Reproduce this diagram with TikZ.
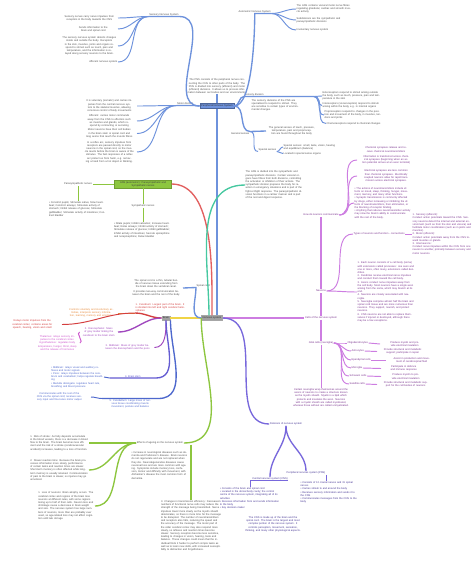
\documentclass[tikz,border=0pt]{standalone}
\usepackage{fontspec}
\setmainfont{Liberation Sans}
\usepackage{xcolor}
\usepackage{tikz}
\usetikzlibrary{positioning}
\definecolor{ink}{RGB}{80,80,80}
\definecolor{pnsblue}{RGB}{110,146,220}
\definecolor{ansgreen}{RGB}{141,198,63}
\definecolor{ansred}{RGB}{226,96,96}
\definecolor{ansteal}{RGB}{70,200,160}
\definecolor{brainyel}{RGB}{240,212,70}
\definecolor{brainred}{RGB}{212,62,62}
\definecolor{brainorange}{RGB}{232,140,60}
\definecolor{brainpurple}{RGB}{160,72,190}
\definecolor{brainpink}{RGB}{205,85,205}
\definecolor{brainviolet}{RGB}{100,92,210}
\definecolor{brainblue}{RGB}{78,104,205}
\definecolor{cellpink}{RGB}{205,125,225}
\definecolor{cellink}{RGB}{125,55,145}
\definecolor{divviolet}{RGB}{120,104,220}
\definecolor{divink}{RGB}{72,56,150}
\definecolor{hubgray}{RGB}{160,160,160}

\begin{document}
\begin{tikzpicture}[x=1pt, y=1pt, node distance=4pt]
    \tikzstyle{txt}=[font=\fontsize{2.6}{3.2}\selectfont, text=ink, inner sep=0.5pt]
    \tikzstyle{note}=[txt, align=center]
    \tikzstyle{leftnote}=[txt, align=left]
    \tikzstyle{hub}=[txt, fill=hubgray, draw=black!35, line width=0.3pt, text=black!80, inner sep=1.3pt]
    \tikzstyle{trunk}=[line width=1.35pt]
    \tikzstyle{twig}=[line width=0.95pt]

    \fill[white] (0,0) rectangle (474,-571);
    \useasboundingbox (0,0) rectangle (474,-571);

    \node[hub] (ns) at (212,-318) {Nervous system};
    \node[hub] (brain) at (166,-318) {Brain};
    \node[hub, fill=pnsblue, draw=pnsblue!70!black] (pns) at (217,-106) {Peripheral Nervous System};
    \node[note, text width=62, above=9pt of pns] (pnsdesc)
      {The PNS consists of the peripheral nerves connecting the CNS to other parts of the body. The PNS is divided into sensory (afferent) and motor (efferent) divisions. It allows us to process information between our bodies and our environments.};

    \node[txt, anchor=south] (sens) at (164,-16.5) {Sensory Nervous System};
    \node[note, text width=56, anchor=east] (sensA) at (118,-18) {Sensory nerves carry nerve impulses from receptors in the body towards the CNS};
    \node[note, text width=48, anchor=east] (sensB) at (118,-29) {Sends information to the brain and spinal cord};
    \node[note, text width=56, anchor=east] (sensC) at (118,-46) {The sensory nervous system detects changes inside and outside the body. Receptors in the skin, muscles, joints and organs respond to stimuli such as touch, pain and temperature, and the information is relayed along sensory neurons to the brain.};
    \node[note, anchor=east] (sensD) at (118,-62) {Afferent nervous system};

    \node[txt, anchor=south east] (mot) at (194,-105.5) {Motor division};
    \node[note, text width=54, anchor=east] (motA) at (137,-106) {It is voluntary (somatic) and carries impulses from the central nervous system to the skeletal muscles, allowing conscious control of body movements};
    \node[note, text width=54, anchor=east] (motB) at (137,-121) {Efferent: carries motor commands away from the CNS to effectors such as muscles and glands, which respond by contracting or secreting};
    \node[note, text width=54, anchor=east] (motC) at (137,-133.5) {Motor neurons have their cell bodies in the brain stem or spinal cord and long axons that reach the muscle fibres};
    \node[note, text width=54, anchor=east] (motD) at (137,-152) {In a reflex arc, sensory impulses from receptors are passed directly to motor neurons in the spinal cord, so the muscle reacts before the brain is aware of the stimulus. The fast responses of a reflex arc protect us from harm, e.g. removing a hand from a hot object or blinking.};

    \node[txt, anchor=south west] (autoNS) at (238,-13.5) {Autonomic Nervous System};
    \node[leftnote, text width=55, anchor=west] (autoA) at (296,-9) {The ANS contains visceral motor nerve fibres regulating glandular, cardiac and smooth muscle activity};
    \node[leftnote, text width=55, anchor=west] (autoB) at (296,-20) {Subdivisions are the sympathetic and parasympathetic divisions};
    \node[leftnote, anchor=west] (autoC) at (296,-30) {Involuntary nervous system};

    \node[txt, anchor=south west] (sdiv) at (244,-96.5) {Sensory division};
    \coordinate (sdj) at (314,-96.5);
    \node[leftnote, text width=48, anchor=north west] (sdivnote) at (251,-98.5) {The sensory divisions of the PNS are specialised to respond to stimuli. They are sensitive to certain types of environmental changes.};
    \node[leftnote, text width=58, anchor=west] (sdivA) at (322,-96) {Exteroceptors respond to stimuli arising outside the body, such as touch, pressure, pain and temperature in the skin};
    \node[leftnote, text width=58, anchor=west] (sdivB) at (322,-105.5) {Interoceptors (visceroceptors) respond to stimuli arising within the body, e.g. in internal organs};
    \node[leftnote, text width=58, anchor=west] (sdivC) at (324,-115) {Proprioceptors respond to changes in the position and movement of the body, in muscles, tendons and joints};
    \node[leftnote, anchor=west] (sdivD) at (326,-123.5) {Chemoreceptors respond to chemical changes};

    \node[txt, anchor=north east] (gen) at (250,-131.5) {General senses};
    \node[note, text width=50, anchor=west] (genA) at (266,-131) {The general senses of touch, pressure, temperature, pain and proprioception are found throughout the body};
    \node[txt, anchor=south west] (spec) at (258,-151.5) {Special senses};
    \node[leftnote, text width=52, anchor=west] (specA) at (283,-147) {Special senses: smell, taste, vision, hearing and equilibrium (balance)};
    \node[leftnote, anchor=west] (specB) at (283,-153.5) {Located in special sense organs};

    \node[note, fill=ansgreen, draw=ansgreen!80!black, line width=0.3pt, text=black!75, minimum width=57, inner sep=1.2pt] (ans) at (143,-184) {ANS (autonomic): Parasympathetic and\\Sympathetic nerves};
    \node[txt] (parasym) at (78,-184) {Parasympathetic nerves};
    \node[leftnote, text width=58, below=15pt of parasym] (paratext) {• Constrict pupils; Stimulate saliva; Slow heartbeat; Constrict airways; Stimulate activity of stomach; Inhibit release of glucose; Stimulate gallbladder; Stimulate activity of intestines; Contract bladder};
    \node[txt, below=16pt of ans] (sym) {Sympathetic nerves};
    \node[leftnote, text width=58, below=14pt of sym] (symtext) {• Dilate pupils; Inhibit salivation; Increase heartbeat; Relax airways; Inhibit activity of stomach; Stimulate release of glucose; Inhibit gallbladder; Inhibit activity of intestines; Secrete epinephrine and norepinephrine; Relax bladder};
    \node[leftnote, text width=57, anchor=west] (ansdesc) at (245,-185) {The ANS is divided into the sympathetic and parasympathetic divisions. Certain visceral organs have fibres from both divisions, controlling the activation or inhibition of their actions. The sympathetic division prepares the body for reaction in emergency situations and is part of the fight-or-flight response. The parasympathetic division functions in a calmer manner and is part of the rest and digest response.};

    \node[txt, anchor=south west] (cord) at (196,-287.5) {Spinal cord};
    \node[note, text width=52, anchor=east] (cordtext) at (183,-288) {The spinal cord is a thin, tubular bundle of nervous tissue extending from the brain down the vertebral canal.\\[1.5pt] It provides two-way communication between the brain and the rest of the body.};

    \node[leftnote, text=brainred, text width=50, anchor=south west] (cerebrum) at (135,-313) {1. Cerebrum: Largest part of the brain. It is divided into left and right cerebral hemispheres};
    \node[note, text=brainorange, text width=52, anchor=east] (cerebrumA) at (118,-313) {Controls voluntary and involuntary activities, interprets sensory information, learning, memory and emotions};
    \node[note, text=brainred, text width=58, anchor=east] (cerebrumB) at (62,-324.5) {Relays motor impulses from the cerebral cortex; contains areas for speech, hearing, vision and smell};
    \node[note, text=brainpurple, text width=37, anchor=east] (dienc) at (118,-332) {2. Diencephalon: Mass of grey matter linking the cerebrum to the brain stem};
    \node[note, text=brainpink, text width=44, anchor=east] (diencA) at (80,-343) {Thalamus: relays sensory impulses to the cerebral cortex. Hypothalamus: regulates body temperature, hunger, thirst, sleep and the release of hormones};
    \node[leftnote, text=brainpurple, text width=48, anchor=north west] (midb) at (105,-344) {3. Midbrain: Mass of grey matter between the diencephalon and the pons};
    \node[txt, text=brainviolet, minimum width=46, anchor=south east] (stem) at (156,-378) {4. Brain stem};
    \node[leftnote, text=brainblue, text width=52, anchor=east] (stemA) at (104,-377) {• Midbrain: relays visual and auditory reflexes and motor signals\\• Pons: relays impulses between the cerebrum and cerebellum; helps regulate breathing\\• Medulla oblongata: regulates heart rate, breathing and blood pressure};
    \node[note, text=brainblue, text width=55, anchor=north west] (cereb) at (102,-398.5) {5. Cerebellum: Large mass of nervous tissue coordinating muscle movement, posture and balance};
    \node[note, text=brainblue, text width=62, anchor=east] (cerebA) at (91,-397) {Communicates with the rest of the CNS via the spinal cord; receives sensory input and fine-tunes motor output};

    \node[txt, text=cellink] (cells) at (321,-318) {Cells of the nervous system};
    \node[txt, text=cellink] (neurons) at (321,-291) {Neurons};
    \node[txt, text=cellink] (talk) at (321,-215) {How do neurons communicate};
    \node[note, text=cellink, text width=52] (talkA) at (386,-149.5) {Chemical synapses release and receive chemical neurotransmitters};
    \node[note, text=cellink, text width=57, anchor=west] (talkB) at (357,-160) {Information is transferred across chemical synapses (beginning when an action potential arrives at an axon terminal)};
    \node[note, text=cellink, text width=57, anchor=west] (talkC) at (357,-176) {Electrical synapses are less common than chemical synapses. Electrically coupled neurons allow for rapid transmission across electrical synapses.};
    \node[leftnote, text=cellink, text width=56, anchor=west] (talkD) at (354,-203) {• The actions of neurotransmitters include effects on mood, sleep, thinking, hunger, movement, memory, and many other functions.\\• Synaptic transmission is commonly affected by drugs, either increasing or inhibiting the effects of neurotransmitters, their elimination, or the blocking of receptor binding.\\• Anything that reduces neurotransmitter activity may slow the brain's ability to communicate with the rest of the body.};
    \node[txt, text=cellink, anchor=west] (types) at (353,-234) {Types of neurons and function - connections};
    \node[leftnote, text=cellink, text width=60, anchor=west] (typelist) at (412,-234) {1. Sensory (afferent):\\Conduct action potentials toward the CNS. Sensory neurons detect the internal and external environment (such as from the skin and viscera) and facilitate motor coordination (such as in joints and muscles).\\2. Motor (efferent):\\Conduct action potentials away from the CNS toward muscles or glands.\\3. Interneurons:\\Conduct nerve impulses within the CNS from one neuron to another, primarily between sensory and motor neurons.};
    \node[leftnote, text=cellink, text width=57, anchor=west] (neurolist) at (357,-292) {1. Each neuron consists of a cell body (soma) with extensions called processes: one axon and one or more, often many, extensions called dendrites.\\2. Dendrites receive electrical nerve impulses and conduct them toward the cell body.\\3. Axons conduct nerve impulses away from the cell body. Most neurons have a single axon arising from the soma, which may branch at its end.\\4. Neurons are closely associated with neuroglia.\\5. Neuroglia comprise almost half the brain and spinal cord tissue and are more numerous than neurons. They support, nourish, and protect neurons.\\6. CNS neurons are not able to replace themselves if injured or destroyed, although there may be a few exceptions.};
    \node[txt, text=cellink] (glia) at (321,-343) {Glial cells (neuroglia)};
    \node[note, text=cellink, text width=56, below=43pt of glia] (myelin) {Certain neuroglia wrap themselves around the axons of neurons to create a structure known as the myelin sheath. Myelin is a lipid which protects and insulates the axon. Neurons with a myelin sheath are called myelinated, whereas those without are called unmyelinated.};
    \node[txt, text=cellink, anchor=west] (oligo) at (347,-343) {Oligodendrocytes};
    \node[note, text=cellink, text width=48, anchor=west] (oligoD) at (380,-344) {Produce myelin and provide electrical insulation};
    \node[txt, text=cellink, anchor=west] (astro) at (351,-351) {Astrocytes};
    \node[note, text=cellink, text width=50, anchor=west] (astroD) at (377,-351.5) {Provide structural and metabolic support; participate in repair};
    \node[txt, text=cellink, anchor=west] (epend) at (351,-360) {Ependymal cells};
    \node[note, text=cellink, text width=50, anchor=west] (ependD) at (386,-360) {Assist in production and movement of cerebrospinal fluid};
    \node[txt, text=cellink, anchor=west] (micro) at (351,-368) {Microglia};
    \node[note, text=cellink, text width=44, anchor=west] (microD) at (381,-368.5) {Participate in defence and immune response};
    \node[txt, text=cellink, anchor=west] (schwann) at (349,-376) {Schwann cells};
    \node[note, text=cellink, text width=48, anchor=west] (schwannD) at (381,-376.5) {Produce myelin to provide electrical insulation};
    \node[txt, text=cellink, anchor=west] (satel) at (349,-384) {Satellite cells};
    \node[note, text=cellink, text width=56, anchor=west] (satelD) at (377,-384.5) {Provide structural and metabolic support for the cell bodies of neurons};

    \node[txt, text=divink] (divs) at (286,-424) {Divisions of nervous system};
    \node[txt, text=divink] (cns) at (270,-479) {Central nervous system (CNS)};
    \node[txt, text=divink] (pnsdiv) at (306,-473) {Peripheral nervous system (PNS)};
    \node[leftnote, text=divink, text width=60, anchor=north] (cnslist) at (250,-487) {• Consists of the brain and spinal cord\\• Located in the dorsal body cavity; the control centre of the nervous system, integrating all of its activities\\• Receives information from and sends information to the body\\• Key decision maker};
    \node[note, text=divink, text width=58, anchor=north] (cnsdesc) at (273,-516) {The CNS is made up of the brain and the spinal cord. The brain is the largest and most complex portion of the nervous system. It controls perception, movement, sensation, thinking, and many other physiological aspects.};
    \node[leftnote, text=divink, text width=57, anchor=north] (pnslist) at (329,-481) {• Consists of 12 cranial nerves and 31 spinal nerves\\• Carries stimuli to and around the body\\• Receives sensory information and sends it to the CNS\\• Communicates messages from the CNS to the body};

    \node[txt] (age) at (160,-443) {Effects of ageing on the nervous system};
    \node[leftnote, text width=58, anchor=east] (ageA) at (89,-443) {1. Risk of stroke: As fatty deposits accumulate in the blood vessels, there is a decrease in blood flow to the brain. The brain becomes less efficient and the risk of a stroke (cerebrovascular accident) increases, leading to a loss of function.};
    \node[leftnote, text width=58, anchor=east] (ageC) at (89,-470) {2. Slower reaction time: Because the brain processes information more slowly, performance of certain tasks and reaction times are slower. Short-term memory is often affected while long-term memory is usually retained. Communication of pain to the brain is slower, so injuries may go unnoticed.};
    \node[leftnote, text width=56, anchor=east] (ageD) at (95,-506) {1. Loss of neurons: Brain atrophy occurs. The cerebral cortex and regions of the brain lose neurons at different rates, with some regions losing up to half of their cells. Neuron loss and shrinkage cause a decrease in brain weight and size. The nervous system has large numbers of neurons, more than are probably ever used, so age-related loss may not affect cognition until late old age.};
    \node[leftnote, text width=56, anchor=north west] (ageB) at (131,-451) {• Increase in neurological diseases such as dementia and Parkinson's disease. Brain neurons do not regenerate and are not replaced when they die. Neurodegenerative diseases cause neuronal loss and are more common with ageing. Symptoms include memory loss, confusion, tremor and difficulty with movement, with Alzheimer's disease the most common form of dementia.};
    \node[leftnote, text width=60, anchor=north] (ageE) at (191,-500) {3. Changes in transmission efficiency: Decreased numbers of functional nerve cells may reduce the strength of the message being transmitted. Nerve impulses travel more slowly as the myelin sheath deteriorates, so there is more time for the message to be disrupted. The number of neurotransmitters and receptors also falls, reducing the speed and the accuracy of the message. The motor part of the older cerebral cortex may also respond more slowly, so reflexes and reaction times become slower. Sensory receptors become less sensitive, leading to changes in vision, hearing, taste and balance. These changes could mean that the individual finds it harder to perform simple tasks as well as to learn new skills, with increased susceptibility to distraction and forgetfulness.};

    \draw[trunk, pnsblue] (pnsdesc) -- (pns);
    \draw[trunk, pnsblue] (pns.south) -- (pns.south |- ns.north);
    \draw[trunk, pnsblue] (pns.west) to[out=180,in=0] (sens.south east) -- (sens.south west);
    \draw[twig, pnsblue] (sens.south west) to[out=180,in=0] (sensA.east);
    \draw[twig, pnsblue] (sens.south west) to[out=180,in=0] (sensB.east);
    \draw[twig, pnsblue] (sens.south west) to[out=180,in=0] (sensC.east);
    \draw[twig, pnsblue] (sens.south west) to[out=180,in=0] (sensD.east);
    \draw[trunk, pnsblue] (pns.west) -- (mot.south east) -- (mot.south west);
    \draw[twig, pnsblue] (mot.south west) to[out=180,in=0] (motA.east);
    \draw[twig, pnsblue] (mot.south west) to[out=180,in=0] (motB.east);
    \draw[twig, pnsblue] (mot.south west) to[out=180,in=0] (motC.east);
    \draw[twig, pnsblue] (mot.south west) to[out=180,in=0] (motD.east);
    \draw[trunk, pnsblue] (pns.east) to[out=0,in=-90,looseness=0.5] (autoNS.south) -- (autoNS.south east);
    \draw[twig, pnsblue] (autoNS.south east) to[out=0,in=180] (autoA.west);
    \draw[twig, pnsblue] (autoNS.south east) to[out=0,in=180] (autoB.west);
    \draw[twig, pnsblue] (autoNS.south east) to[out=0,in=180] (autoC.west);
    \draw[trunk, pnsblue] (pns.east) to[out=0,in=180] (sdiv.south west) -- (sdj);
    \draw[twig, pnsblue] (sdj) to[out=0,in=180] (sdivA.west);
    \draw[twig, pnsblue] (sdj) to[out=0,in=180] (sdivB.west);
    \draw[twig, pnsblue] (sdj) to[out=0,in=180] (sdivC.west);
    \draw[twig, pnsblue] (sdj) to[out=0,in=180] (sdivD.west);
    \draw[trunk, pnsblue] (pns.east) to[out=0,in=180] (gen.north east) -- (genA.west);
    \draw[twig, pnsblue] (gen.north east) to[out=0,in=180] (spec.south west);
    \draw[twig, pnsblue] (spec.south east) to[out=0,in=180] (specA.west);
    \draw[twig, pnsblue] (spec.south east) to[out=0,in=180] (specB.west);

    \draw[twig, ansgreen] (ans.west) -- (parasym.east);
    \draw[twig, ansgreen] (parasym) -- (paratext);
    \draw[twig, ansgreen] (ans) -- (sym);
    \draw[twig, ansgreen] (sym) -- (symtext);
    \draw[trunk, ansred] (ans.east) to[out=0,in=90,looseness=0.8] (ns.north);
    \draw[trunk, ansteal] (ansdesc.west) to[out=180,in=90] ([xshift=-3pt]ns.north);

    \draw[trunk, brainyel] (brain.east) -- (ns.west);
    \draw[trunk, pnsblue] (ns.west) to[out=180,in=-90] (cord.south west) -- (cordtext.east);

    \draw[trunk, brainred] (brain.west) to[out=180,in=0] (cerebrum.south west);
    \draw[twig, brainorange] (cerebrum.south west) -- (cerebrumA.east);
    \draw[twig, brainred] (cerebrum.south west) to[out=180,in=0] (cerebrumB.east);
    \draw[trunk, brainpurple] (brain.west) to[out=180,in=0] (dienc.east);
    \draw[twig, brainpink] (dienc.west) to[out=180,in=0] (diencA.east);
    \draw[twig, brainpurple] (brain.south) to[out=-90,in=0] (midb.east);
    \draw[trunk, brainviolet] (brain.south) to[out=-90,in=0] (stem.south east) -- (stem.south west);
    \draw[twig, brainblue] (stem.south west) -- (stemA.east);
    \draw[trunk, brainblue] (brain.south east) to[out=-90,in=0] (cereb.north east) -- (cereb.north west);
    \draw[twig, brainblue] (cereb.north west) to[out=180,in=0] (cerebA.east);

    \draw[trunk, cellpink] (ns.east) -- (cells.west);
    \draw[trunk, cellpink] (cells.north) -- (neurons.south);
    \draw[trunk, cellpink] (neurons.north) -- (talk.south);
    \draw[trunk, cellpink] (cells.south) -- (glia.north);
    \draw[twig, cellpink] (glia.south) -- (myelin.north);
    \draw[twig, cellpink] (talk.east) to[out=0,in=180] (talkB.west);
    \draw[twig, cellpink] (talk.east) to[out=0,in=180] (talkC.west);
    \draw[twig, cellpink] (talk.east) to[out=0,in=180] (talkD.west);
    \draw[twig, cellpink] (neurons.east) to[out=0,in=180] (types.west);
    \draw[twig, cellpink] (types.east) -- (typelist.west);
    \draw[twig, cellpink] (neurons.east) to[out=0,in=180] (neurolist.west);
    \draw[twig, cellpink] (glia.east) to[out=0,in=180] (oligo.west);
    \draw[twig, cellpink] (glia.east) to[out=0,in=180] (astro.west);
    \draw[twig, cellpink] (glia.east) to[out=0,in=180] (epend.west);
    \draw[twig, cellpink] (glia.east) to[out=0,in=180] (micro.west);
    \draw[twig, cellpink] (glia.east) to[out=0,in=180] (schwann.west);
    \draw[twig, cellpink] (glia.east) to[out=0,in=180] (satel.west);
    \draw[twig, cellpink] (oligo.east) -- (oligoD.west);
    \draw[twig, cellpink] (astro.east) -- (astroD.west);
    \draw[twig, cellpink] (epend.east) -- (ependD.west);
    \draw[twig, cellpink] (micro.east) -- (microD.west);
    \draw[twig, cellpink] (schwann.east) -- (schwannD.west);
    \draw[twig, cellpink] (satel.east) -- (satelD.west);

    \draw[trunk, divviolet] (ns.east) to[out=0,in=180] (divs.west);
    \draw[trunk, divviolet] (divs.south) to[out=-90,in=90] (cns.north);
    \draw[trunk, divviolet] (divs.south) to[out=-90,in=90] (pnsdiv.north);
    \draw[twig, divviolet] (cnslist.north) |- (cns.south east);
    \draw[twig, divviolet] (pnsdiv.south east) -- (pnsdiv.south east |- pnslist.north);

    \draw[trunk, ansgreen] (ns.west) to[out=-90,in=0] (age.east);
    \draw[trunk, ansgreen] (age.west) -- (ageA.east);
    \draw[trunk, ansgreen] (age.west) to[out=180,in=0] (ageC.east);
    \draw[trunk, ansgreen] (age.west) to[out=180,in=0] (ageD.east);
    \draw[trunk, ansgreen] (age.south -| ageE.north) -- (ageE.north);
\end{tikzpicture}
\end{document}
